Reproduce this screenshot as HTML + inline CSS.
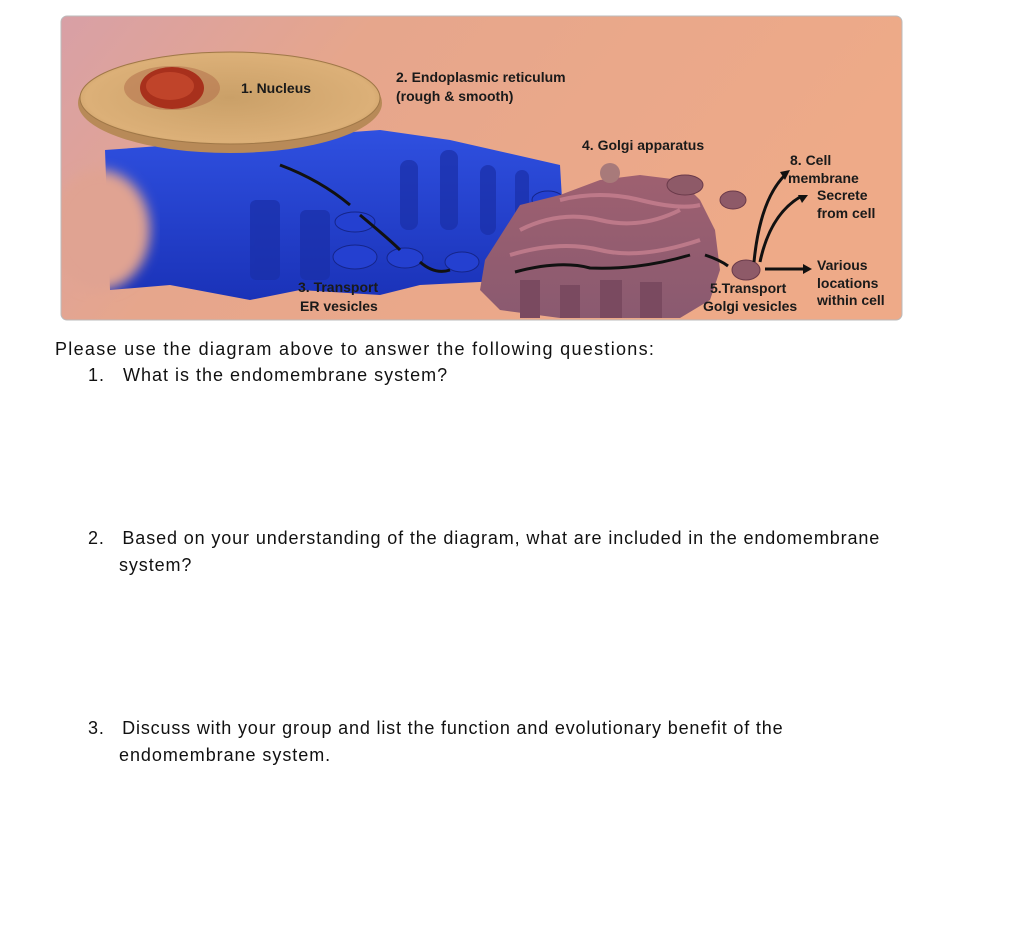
<!DOCTYPE html>
<html><head><style>
body{margin:0;width:1024px;height:932px;background:#fff;position:relative;font-family:"Liberation Sans",sans-serif;overflow:hidden}
.t{position:absolute;font-size:18px;color:#111;white-space:nowrap}
svg text{font-family:"Liberation Sans",sans-serif;font-weight:bold;font-size:14px;fill:#1a1a1a}
</style></head><body>
<svg width="1024" height="330" style="position:absolute;left:0;top:0">
<defs>
<linearGradient id="bg" x1="0" y1="0" x2="1" y2="0.3">
<stop offset="0" stop-color="#d8a0a6"/><stop offset="0.35" stop-color="#e6a68c"/><stop offset="1" stop-color="#eeaa88"/></linearGradient>
<radialGradient id="nu" cx="0.5" cy="0.5" r="0.6"><stop offset="0" stop-color="#caa068"/><stop offset="0.8" stop-color="#dcb078"/><stop offset="1" stop-color="#b88a52"/></radialGradient>
<linearGradient id="er" x1="0" y1="0" x2="0" y2="1"><stop offset="0" stop-color="#2f50e0"/><stop offset="1" stop-color="#1a32b8"/></linearGradient>
<linearGradient id="go" x1="0" y1="0" x2="0" y2="1"><stop offset="0" stop-color="#9e6070"/><stop offset="1" stop-color="#8a5a70"/></linearGradient>
<filter id="bl"><feGaussianBlur stdDeviation="6"/></filter>
<clipPath id="cp"><rect x="61" y="16" width="841" height="304" rx="6"/></clipPath>
</defs>
<g clip-path="url(#cp)">
<rect x="61" y="16" width="841" height="304" rx="6" fill="url(#bg)"/>
<path d="M105,150 L380,130 L450,140 L560,165 L565,250 L520,280 L420,285 L380,295 L300,290 L250,300 L170,285 L110,290 Z" fill="url(#er)"/>
<ellipse cx="100" cy="230" rx="50" ry="60" fill="#e0a392" filter="url(#bl)"/>
<g fill="#1a2fa8" opacity="0.7">
<rect x="400" y="160" width="18" height="70" rx="8"/><rect x="440" y="150" width="18" height="80" rx="8"/><rect x="480" y="165" width="16" height="70" rx="8"/><rect x="515" y="170" width="14" height="60" rx="7"/>
<rect x="250" y="200" width="30" height="80" rx="6"/><rect x="300" y="210" width="30" height="70" rx="6"/>
</g>
<ellipse cx="355" cy="257" rx="22" ry="12" fill="#2440d0" stroke="#15258a"/>
<ellipse cx="405" cy="258" rx="18" ry="10" fill="#2440d0" stroke="#15258a"/>
<ellipse cx="462" cy="262" rx="17" ry="10" fill="#2440d0" stroke="#15258a"/>
<ellipse cx="355" cy="222" rx="20" ry="10" fill="#2440d0" stroke="#15258a"/>
<ellipse cx="548" cy="200" rx="16" ry="9" fill="#2440d0" stroke="#15258a"/>
<ellipse cx="230" cy="103" rx="152" ry="50" fill="#b88a58"/>
<ellipse cx="230" cy="98" rx="150" ry="46" fill="url(#nu)" stroke="#a07848"/>
<ellipse cx="172" cy="88" rx="48" ry="22" fill="#b06a48" opacity="0.5"/>
<ellipse cx="172" cy="88" rx="32" ry="21" fill="#a8301c"/>
<ellipse cx="170" cy="86" rx="24" ry="14" fill="#c0442a"/>
<path d="M485,260 L520,205 L560,195 L600,180 L640,175 L680,180 L700,200 L715,230 L720,270 L710,300 L680,318 L560,318 L500,310 L480,290 Z" fill="url(#go)"/>
<g fill="none" stroke="#c78090" stroke-width="4" opacity="0.8">
<path d="M520,230 Q560,210 600,220 T680,210"/><path d="M510,255 Q560,240 600,250 T700,240"/><path d="M560,200 Q600,190 640,200 T700,205"/>
</g>
<g fill="#7a4a60"><rect x="520" y="280" width="20" height="38"/><rect x="560" y="285" width="20" height="33"/><rect x="600" y="280" width="22" height="38"/><rect x="640" y="282" width="22" height="36"/></g>
<circle cx="610" cy="173" r="10" fill="#a87a7a"/>
<ellipse cx="685" cy="185" rx="18" ry="10" fill="#8e5a68" stroke="#6a3a4a"/>
<ellipse cx="733" cy="200" rx="13" ry="9" fill="#8e5a68" stroke="#6a3a4a"/>
<ellipse cx="746" cy="270" rx="14" ry="10" fill="#8e5a68" stroke="#6a3a4a"/>
<g fill="none" stroke="#111" stroke-width="3">
<path d="M280,165 Q320,180 350,205"/><path d="M360,215 Q390,240 400,250"/><path d="M420,262 Q435,275 450,270"/>
<path d="M515,272 Q560,260 590,268 Q640,270 690,255"/><path d="M705,255 Q720,260 728,266"/>
<path d="M754,262 Q760,200 785,175"/><path d="M760,262 Q770,215 800,197"/><path d="M765,269 L805,269"/>
</g>
<g fill="#111"><path d="M790,170 l-10,2 l5,8z"/><path d="M808,195 l-10,0 l4,8z"/><path d="M812,269 l-9,-5 l0,10z"/></g>
<text x="241" y="93">1. Nucleus</text>
<text x="396" y="82">2. Endoplasmic reticulum</text>
<text x="396" y="101">(rough &amp; smooth)</text>
<text x="582" y="150">4. Golgi apparatus</text>
<text x="790" y="165">8. Cell</text>
<text x="788" y="183">membrane</text>
<text x="817" y="200">Secrete</text>
<text x="817" y="218">from cell</text>
<text x="817" y="270">Various</text>
<text x="817" y="288">locations</text>
<text x="817" y="305">within cell</text>
<text x="298" y="292">3. Transport</text>
<text x="300" y="311">ER vesicles</text>
<text x="710" y="293">5.Transport</text>
<text x="703" y="311">Golgi vesicles</text>
</g>
<rect x="61" y="16" width="841" height="304" rx="6" fill="none" stroke="#bbb"/>
</svg>
<div class="t" style="left:55px;top:339px;letter-spacing:1.3px">Please use the diagram above to answer the following questions:</div>
<div class="t" style="left:88px;top:365px;letter-spacing:1px">1.&nbsp;&nbsp;&nbsp;What is the endomembrane system?</div>
<div class="t" style="left:88px;top:528px;letter-spacing:0.88px">2.&nbsp;&nbsp;&nbsp;Based on your understanding of the diagram, what are included in the endomembrane</div>
<div class="t" style="left:119px;top:555px;letter-spacing:0.9px">system?</div>
<div class="t" style="left:88px;top:718px;letter-spacing:0.83px">3.&nbsp;&nbsp;&nbsp;Discuss with your group and list the function and evolutionary benefit of the</div>
<div class="t" style="left:119px;top:745px;letter-spacing:0.95px">endomembrane system.</div>
</body></html>
